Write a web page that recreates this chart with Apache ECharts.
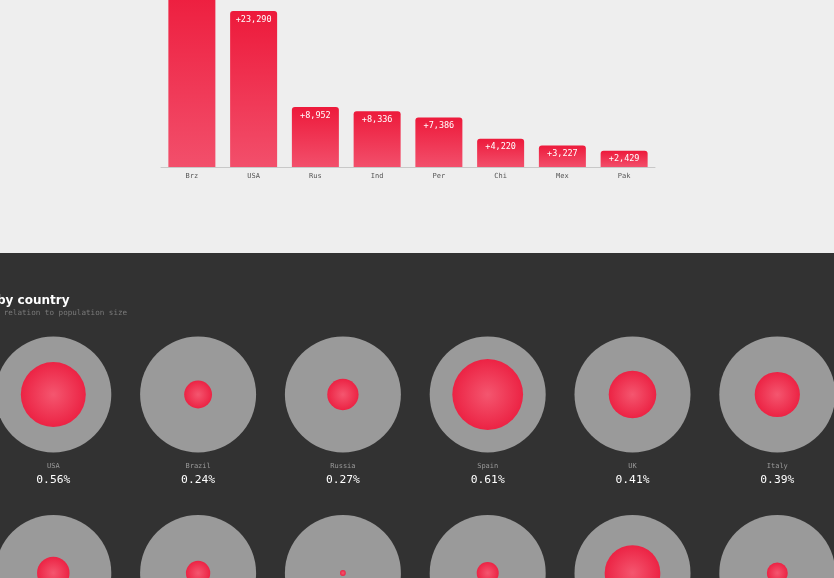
<!DOCTYPE html>
<html>
<head>
<meta charset="utf-8">
<script src="https://cdn.jsdelivr.net/npm/echarts@6/dist/echarts.min.js"></script>
<style>
html,body{margin:0;padding:0;background:#eeeeee;overflow:hidden;width:834px;height:578px;position:relative}
#c{position:absolute;left:0;top:-100px;width:834px;height:678px}
</style>
</head>
<body>
<div id="c"></div>
<script>
// Bar chart data (recent increase)
var barCategories = ['Brz', 'USA', 'Rus', 'Ind', 'Per', 'Chi', 'Mex', 'Pak'];
var barValues = [28000, 23290, 8952, 8336, 7386, 4220, 3227, 2429];

// Circle grid data (share of population, %)
var row1Countries = ['USA', 'Brazil', 'Russia', 'Spain', 'UK', 'Italy'];
var row1Values = [0.56, 0.24, 0.27, 0.61, 0.41, 0.39];
var row2Values = [0.28, 0.21, 0.05, 0.19, 0.48, 0.18];

var MONO = '"DejaVu Sans Mono", "Liberation Mono", monospace';
var OFF = 100; // page is scrolled: chart canvas starts 100px above the visible area
var chart = echarts.init(document.getElementById('c'));

var grayData = [], redData = [];
row1Values.forEach(function (v, i) {
  grayData.push({ value: [i, 0], name: row1Countries[i], pct: v });
  redData.push({ value: [i, 0, v] });
});
row2Values.forEach(function (v, i) {
  grayData.push({ value: [i, 1], name: '', pct: null });
  redData.push({ value: [i, 1, v] });
});

var SCALE = 116; // px diameter for 1%

chart.setOption({
  backgroundColor: '#eeeeee',
  animation: false,
  graphic: [
    { type: 'rect', z: -10, silent: true, shape: { x: 0, y: 253 + OFF, width: 834, height: 325 }, style: { fill: '#323232' } }
  ],
  title: [
    { text: 'by country', left: -3, top: 294.5 + OFF, padding: 0,
      textStyle: { color: '#ffffff', fontSize: 12, fontWeight: 'bold', fontFamily: '"DejaVu Sans", sans-serif' } },
    { text: 'in relation to population size', left: -10, top: 309 + OFF, padding: 0,
      textStyle: { color: '#7a7a7a', fontSize: 7.6, fontWeight: 'normal', fontFamily: MONO } }
  ],
  grid: [
    { left: 161, width: 494, top: 167 + OFF - 227.7, height: 227.7, containLabel: false },
    { left: 53.3, width: 724, top: 394.5 + OFF, height: 178.5, containLabel: false }
  ],
  xAxis: [
    { gridIndex: 0, type: 'category', data: barCategories,
      axisLine: { show: true, lineStyle: { color: '#c8c8c8', width: 1 } },
      axisTick: { show: false },
      axisLabel: { color: '#555555', fontSize: 7, fontFamily: MONO, margin: 6 } },
    { gridIndex: 1, type: 'value', min: 0, max: 5, show: false }
  ],
  yAxis: [
    { gridIndex: 0, type: 'value', min: 0, max: 34000, show: false, splitLine: { show: false } },
    { gridIndex: 1, type: 'value', min: 0, max: 1, inverse: true, show: false, splitLine: { show: false } }
  ],
  series: [
    {
      type: 'bar', xAxisIndex: 0, yAxisIndex: 0, data: barValues, barWidth: 47,
      itemStyle: {
        borderRadius: [3, 3, 0, 0],
        color: new echarts.graphic.LinearGradient(0, 0, 0, 1, [
          { offset: 0, color: '#ed1a3b' },
          { offset: 1, color: '#f24f6b' }
        ])
      },
      label: {
        show: true, position: 'insideTop', distance: 4,
        color: '#ffffff', fontSize: 8.5, fontFamily: MONO,
        formatter: function (p) { return '+' + p.value.toLocaleString('en-US'); }
      }
    },
    {
      type: 'scatter', xAxisIndex: 1, yAxisIndex: 1, clip: false, silent: true,
      symbol: 'circle', symbolSize: SCALE,
      itemStyle: { color: '#9a9a9a', opacity: 1 },
      data: grayData,
      label: {
        show: true, position: 'bottom', distance: 8,
        formatter: function (p) {
          if (p.data.pct == null) return '';
          return '{n|' + p.data.name + '}\n{v|' + p.data.pct.toFixed(2) + '%}';
        },
        rich: {
          n: { fontSize: 7, color: '#9a9a9a', fontFamily: MONO, lineHeight: 12, align: 'center' },
          v: { fontSize: 11.3, color: '#ffffff', fontFamily: MONO, lineHeight: 16, align: 'center' }
        }
      }
    },
    {
      type: 'scatter', xAxisIndex: 1, yAxisIndex: 1, clip: false, silent: true, z: 3,
      symbol: 'circle',
      symbolSize: function (val) { return val[2] * SCALE; },
      itemStyle: {
        opacity: 1,
        color: new echarts.graphic.RadialGradient(0.5, 0.5, 0.5, [
          { offset: 0, color: '#f4566f' },
          { offset: 1, color: '#ec2344' }
        ])
      },
      data: redData
    }
  ]
});
</script>
</body>
</html>
